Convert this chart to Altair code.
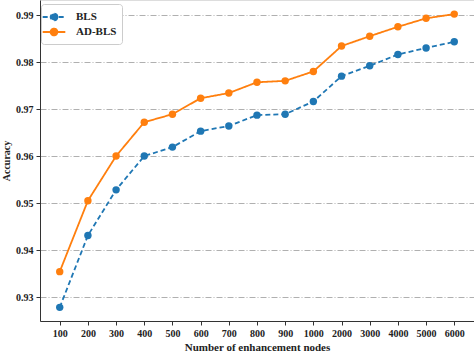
import altair as alt
import pandas as pd

nodes = ["100", "200", "300", "400", "500", "600", "700", "800", "900", "1000",
         "2000", "3000", "4000", "5000", "6000"]
bls = [0.9278, 0.9431, 0.9528, 0.9600, 0.9619, 0.9653, 0.9664, 0.9687, 0.9689,
       0.9716, 0.9770, 0.9792, 0.9816, 0.9830, 0.9843]
adbls = [0.9354, 0.9505, 0.9600, 0.9672, 0.9689, 0.9723, 0.9734, 0.9757, 0.9760,
         0.9780, 0.9834, 0.9855, 0.9875, 0.9893, 0.9902]
series = ["BLS", "AD-BLS"]
colors = ["#1f77b4", "#ff7f0e"]

rows = []
for name, vals in zip(series, [bls, adbls]):
    for n, v in zip(nodes, vals):
        rows.append({"nodes": n, "acc": v, "method": name})
df = pd.DataFrame(rows)

FONT = "Liberation Serif"
SYMBOL = "M-1.6,0L1.6,0M0.48,0A0.48,0.48,0,1,1,-0.48,0A0.48,0.48,0,1,1,0.48,0Z"

x = alt.X("nodes:N", sort=nodes,
          scale=alt.Scale(type="point", padding=0.7),
          axis=alt.Axis(title="Number of enhancement nodes", labelAngle=0, grid=False,
                        labelFont=FONT, labelFontWeight="bold", labelFontSize=10,
                        titleFont=FONT, titleFontWeight="bold", titleFontSize=11,
                        labelColor="#222", titleColor="#222", tickColor="#333",
                        domainColor="#333", tickSize=4, labelPadding=3, titlePadding=3))
y = alt.Y("acc:Q", scale=alt.Scale(domain=[0.9249, 0.9932], zero=False, nice=False),
          axis=alt.Axis(title="Accuracy", values=[0.93, 0.94, 0.95, 0.96, 0.97, 0.98, 0.99],
                        format=".2f", grid=True, gridColor="#b0b0b0",
                        gridDash=[6, 2, 1, 2], gridWidth=1,
                        labelFont=FONT, labelFontWeight="bold", labelFontSize=10,
                        titleFont=FONT, titleFontWeight="bold", titleFontSize=10,
                        labelColor="#222", titleColor="#222", tickColor="#333",
                        domainColor="#333", tickSize=4, labelPadding=3, titlePadding=4))
color = alt.Color("method:N", sort=series,
                  scale=alt.Scale(domain=series, range=colors),
                  legend=alt.Legend(title=None, orient="none", legendX=1, legendY=4,
                                    labelFont=FONT, labelFontWeight="bold", labelFontSize=11,
                                    labelColor="#222", labelOffset=14,
                                    strokeColor="#ccc", fillColor="white", padding=5,
                                    cornerRadius=3,
                                    symbolType=SYMBOL, symbolSize=200,
                                    symbolDash=[1, 0],
                                    symbolStrokeWidth=1.8, rowPadding=-2))
dash = alt.StrokeDash("method:N", sort=series,
                      scale=alt.Scale(domain=series, range=[[5, 3], [1, 0]]),
                      legend=None)

base = alt.Chart(df)
lines = base.mark_line(strokeWidth=1.8).encode(x=x, y=y, color=color, strokeDash=dash)
points = base.mark_circle(size=55, opacity=1).encode(x=x, y=y, color=color)

chart = alt.layer(lines, points).properties(
    width=434, height=321,
    autosize=alt.AutoSizeParams(type="none"),
    padding={"left": 40, "top": 0, "right": 0, "bottom": 30},
).configure_view(stroke=None).configure(background="white")

chart.save("out.html", embed_options={"renderer": "svg", "actions": False})
